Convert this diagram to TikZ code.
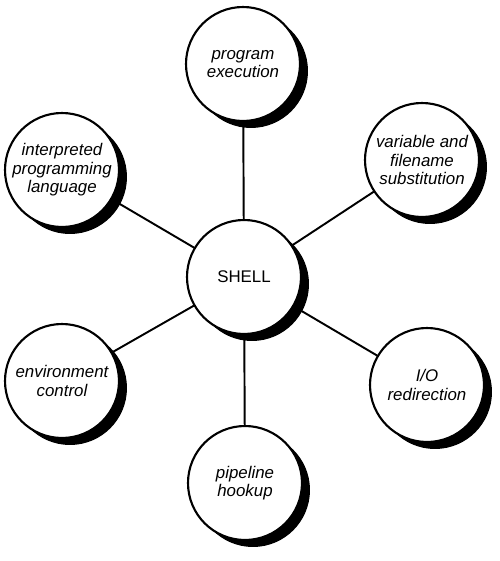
\documentclass[tikz,border=0pt]{standalone}
\usepackage{fontspec}
\setmainfont{Liberation Sans}
\usetikzlibrary{shadows}
\pgfdeclarelayer{background}
\pgfsetlayers{background,main}

\begin{document}
\begin{tikzpicture}[x=0.02cm, y=-0.02cm,
        bubble/.style={circle, draw, line width=1.2pt, fill=white,
            minimum size=2.28cm, inner sep=0pt, align=center,
            font=\fontsize{9.6}{10.6}\selectfont\itshape,
            drop shadow={shadow xshift=0.16cm, shadow yshift=-0.14cm,
                opacity=1, fill=black}},
        spoke/.style={line width=1.1pt}]
        \useasboundingbox (0, 0) rectangle (500, 561);

        \node[bubble, font=\fontsize{9.6}{10.6}\selectfont] (shell) at (244, 277) {SHELL};

        \node[bubble] (prog) at (243, 64) {program\\execution};
        \node[bubble] (interp) at (62, 170) {interpreted\\programming\\language};
        \node[bubble] (varsub) at (422, 160) {variable and\\filename\\substitution};
        \node[bubble] (env) at (62, 381) {environment\\control};
        \node[bubble] (io) at (427, 385) {I/O\\redirection};
        \node[bubble] (pipe) at (245, 483) {pipeline\\hookup};

        \begin{pgfonlayer}{background}
        \foreach \n in {prog, interp, varsub, env, io, pipe}
            \draw[spoke] (shell.center) -- (\n.center);
        \end{pgfonlayer}
    \end{tikzpicture}
\end{document}
